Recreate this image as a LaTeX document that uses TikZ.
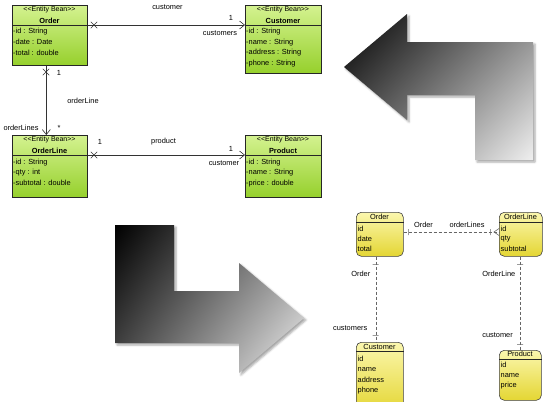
\documentclass[tikz,border=0pt]{standalone}
\usepackage{fontspec}
\setmainfont{Liberation Sans}
\usetikzlibrary{arrows.meta,shapes.misc,shadings,shadows.blur}
\definecolor{beantop}{HTML}{D4F290}
\definecolor{beanbot}{HTML}{96D02C}
\definecolor{enttop}{HTML}{FBF7AE}
\definecolor{entbot}{HTML}{E4D633}

\begin{document}
\begin{tikzpicture}[x=1pt, y=-1pt, font=\fontsize{7.4}{8}\selectfont,
    bean/.style={draw=black!85, line width=0.6pt, top color=beantop, bottom color=beanbot,
      anchor=north west, inner sep=0pt, minimum width=75pt, minimum height=#1},
    entity/.style={draw=black!75, line width=0.6pt, rounded corners=5pt, top color=enttop,
      bottom color=entbot, anchor=north west, inner sep=0pt, minimum height=#1},
    sep/.style={draw=black!85, line width=0.6pt},
    stereo/.style={inner sep=0pt, font=\fontsize{7}{7}\selectfont},
    attr/.style={anchor=west, inner sep=0pt},
    lbl/.style={inner sep=0pt},
    assoc/.style={draw=black!80, line width=0.6pt, -{Straight Barb[length=5pt,width=8pt]}},
    xmark/.style={cross out, draw=black!80, line width=0.5pt, minimum size=6pt, inner sep=0pt},
    rel/.style={draw=black!60, line width=0.6pt, dash pattern=on 3pt off 2pt},
    tick/.style={draw=black!60, line width=0.6pt, inner sep=0pt, minimum width=0pt, minimum height=0pt},
    bigarrow/.style={upper left=black, lower right=white!94!black,
      blur shadow={shadow xshift=2pt, shadow yshift=-2pt, shadow blur radius=2pt, shadow opacity=35}}
  ]
  \useasboundingbox (0,0) rectangle (550,402);

  % big arrows
  \shade[bigarrow, upper right=black!48, lower left=black!62]
    (344,67) -- (407,14) -- (407,42) -- (533,42) -- (533,160) -- (475,160)
    -- (475,95) -- (407,95) -- (407,120) -- cycle;
  \shade[bigarrow, upper right=black!45, lower left=black!70]
    (115,225) -- (174,225) -- (174,291) -- (239,291) -- (239,263) -- (304,318)
    -- (239,373) -- (239,343) -- (115,343) -- cycle;

  % entity beans
  \node[bean=60pt] (order) at (12,5) {};
  \node[bean=68pt, minimum width=76pt] (customer) at (245,5) {};
  \node[bean=62pt] (orderline) at (12,135) {};
  \node[bean=62pt, minimum width=76pt] (product) at (245,135) {};
  \foreach \b in {order,customer,orderline,product}
    \draw[sep] ([yshift=-20pt]\b.north west) -- ([yshift=-20pt]\b.north east);

  \node[stereo] (order-st) at (49.5,10) {<{}<Entity Bean>{}>};
  \node[lbl] (order-nm) at (49.5,20.5) {\bfseries Order};
  \foreach \a [count=\i] in {-id : String, -date : Date, -total : double}
    \node[attr] (order-a\i) at (13,21.5+10.4*\i) {\a};

  \node[stereo] (customer-st) at (283,10) {<{}<Entity Bean>{}>};
  \node[lbl] (customer-nm) at (283,20.5) {\bfseries Customer};
  \foreach \a [count=\i] in {-id : String, -name : String, -address : String, -phone : String}
    \node[attr] (customer-a\i) at (246,21.5+10.4*\i) {\a};

  \node[stereo] (orderline-st) at (49.5,140) {<{}<Entity Bean>{}>};
  \node[lbl] (orderline-nm) at (49.5,150.5) {\bfseries OrderLine};
  \foreach \a [count=\i] in {-id : String, -qty : int, -subtotal : double}
    \node[attr] (orderline-a\i) at (13,152.5+10.2*\i) {\a};

  \node[stereo] (product-st) at (283,140) {<{}<Entity Bean>{}>};
  \node[lbl] (product-nm) at (283,150.5) {\bfseries Product};
  \foreach \a [count=\i] in {-id : String, -name : String, -price : double}
    \node[attr] (product-a\i) at (246,152.5+10.2*\i) {\a};

  % associations
  \draw[assoc] ([yshift=-20pt]order.north east) -- ([yshift=-20pt]customer.north west);
  \draw[assoc] ([xshift=-3.5pt]order.south) -- ([xshift=-3.5pt]orderline.north);
  \draw[assoc] ([yshift=-20pt]orderline.north east) -- ([yshift=-20pt]product.north west);
  \node[xmark] (x-customer) at (94,25) {};
  \node[xmark] (x-orderline) at (46,72) {};
  \node[xmark] (x-product) at (94,155) {};

  \node[lbl] (l-customer) at (167.5,7) {customer};
  \node[lbl] (l-one1) at (231,18) {1};
  \node[lbl] (l-customers) at (220,33) {customers};
  \node[lbl] (l-one2) at (59,73) {1};
  \node[lbl] (l-orderline) at (83,101) {orderLine};
  \node[lbl] (l-orderlines) at (21,128) {orderLines};
  \node[lbl] (l-star) at (59,127.5) {*};
  \node[lbl] (l-one3) at (100,142) {1};
  \node[lbl] (l-product) at (163.5,142) {product};
  \node[lbl] (l-one4) at (231,149) {1};
  \node[lbl] (l-customer2) at (224,163) {customer};

  % entities
  \node[entity=44pt, minimum width=47pt] (e-order) at (356,212) {};
  \node[entity=44pt, minimum width=43pt] (e-orderline) at (499,212) {};
  \node[entity=70pt, minimum width=47pt] (e-customer) at (356,342) {};
  \node[entity=50pt, minimum width=42pt] (e-product) at (499,350) {};
  \draw[sep] ([yshift=-10pt]e-order.north west) -- ([yshift=-10pt]e-order.north east);
  \draw[sep] ([yshift=-10pt]e-orderline.north west) -- ([yshift=-10pt]e-orderline.north east);
  \draw[sep] ([yshift=-9pt]e-customer.north west) -- ([yshift=-9pt]e-customer.north east);
  \draw[sep] ([yshift=-9pt]e-product.north west) -- ([yshift=-9pt]e-product.north east);

  \node[lbl] (e-order-nm) at (379.5,217) {Order};
  \foreach \a [count=\i] in {id, date, total}
    \node[attr] (e-order-a\i) at (357.5,218.5+10.2*\i) {\a};
  \node[lbl] (e-orderline-nm) at (520.5,217) {OrderLine};
  \foreach \a [count=\i] in {id, qty, subtotal}
    \node[attr] (e-orderline-a\i) at (500.5,218.5+10.2*\i) {\a};
  \node[lbl] (e-customer-nm) at (379.5,346.5) {Customer};
  \foreach \a [count=\i] in {id, name, address, phone}
    \node[attr] (e-customer-a\i) at (357.5,348.5+10.5*\i) {\a};
  \node[lbl] (e-product-nm) at (520,354) {Product};
  \foreach \a [count=\i] in {id, name, price}
    \node[attr] (e-product-a\i) at (500.5,354.5+10.3*\i) {\a};

  % relationships
  \draw[rel] ([yshift=-20pt]e-order.north east) -- ([yshift=-20pt]e-orderline.north west);
  \draw[rel] ([xshift=-4pt]e-customer.north |- e-order.south) -- ([xshift=-4pt]e-customer.north);
  \draw[rel] (e-product.north |- e-orderline.south) -- (e-product.north);
  \node[tick, minimum height=6pt] (t1) at (408,232) {};
  \node[tick, minimum height=6pt] (t2) at (490,232) {};
  \draw[tick] (499,228.5) -- (494,232) -- (499,235.5);
  \node[tick, minimum width=6pt] (t3) at (375.5,264) {};
  \node[tick, minimum width=6pt] (t4) at (375.5,335) {};
  \node[tick, minimum width=6pt] (t5) at (520,264) {};
  \node[tick, minimum width=6pt] (t6) at (520,344) {};

  \node[lbl] (r-order) at (423.5,225) {Order};
  \node[lbl] (r-orderlines) at (467,225) {orderLines};
  \node[lbl, anchor=east] (r-order2) at (370.5,273.5) {Order};
  \node[lbl, anchor=east] (r-customers) at (367.5,328) {customers};
  \node[lbl, anchor=east] (r-orderline) at (515.5,273.5) {OrderLine};
  \node[lbl, anchor=east] (r-customer) at (513,335) {customer};
\end{tikzpicture}
\end{document}
